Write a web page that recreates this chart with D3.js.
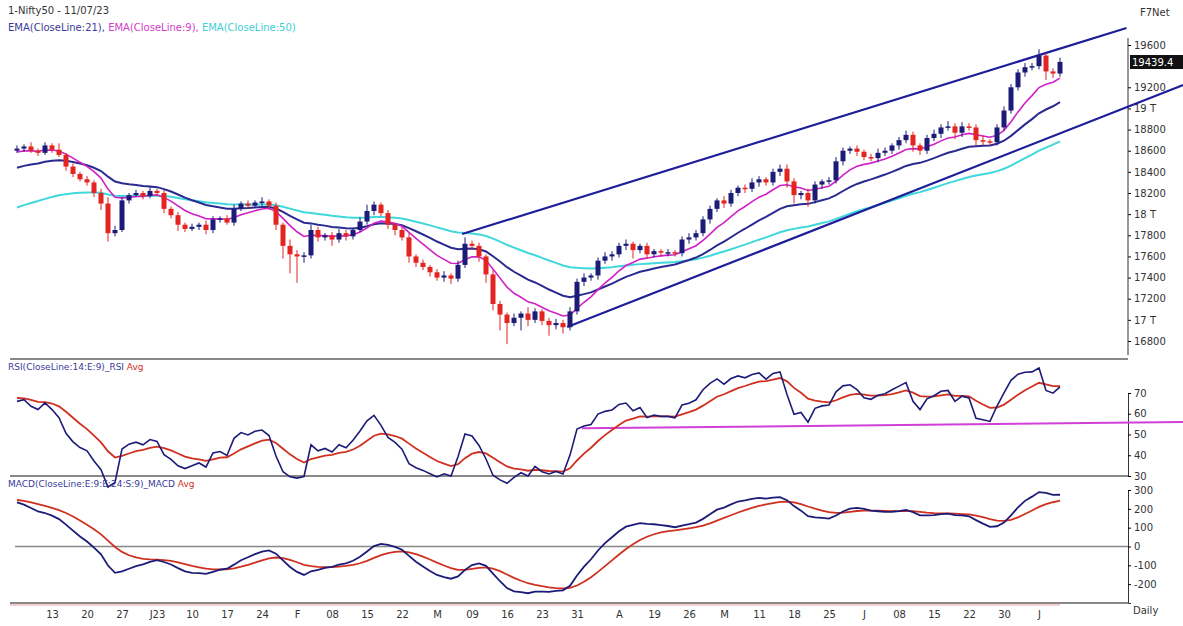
<!DOCTYPE html>
<html>
<head>
<meta charset="utf-8">
<script src="https://cdn.jsdelivr.net/npm/d3@7"></script>
<style>
  body { margin: 0; background: #fff; }
  text { font-family: Verdana, "DejaVu Sans", sans-serif; }
</style>
</head>
<body>
<svg id="chart" width="1183" height="626"></svg>
<script>
// daily closes, Dec 2022 - 11 Jul 2023
const closes = [
  18620,18640,18600,18580,18650,18610,18560,18450,18380,18330,
  18300,18200,18100,17820,17850,18130,18180,18200,18170,18220,
  18200,18050,17990,17900,17860,17880,17900,17850,17950,17960,
  17920,18050,18100,18080,18110,18120,18080,17900,17700,17620,
  17600,17610,17850,17780,17800,17760,17820,17790,17850,17930,
  18030,18090,18010,17900,17850,17780,17600,17540,17500,17450,
  17400,17420,17390,17520,17720,17700,17600,17430,17150,17050,
  16970,17020,17060,17000,17080,16990,16950,16970,16930,17080,
  17360,17400,17420,17560,17600,17620,17700,17720,17660,17700,
  17620,17650,17640,17640,17630,17760,17780,17820,17950,18050,
  18130,18100,18200,18250,18240,18300,18330,18300,18400,18430,
  18310,18180,18200,18130,18280,18310,18320,18500,18600,18620,
  18590,18540,18530,18580,18600,18650,18700,18750,18650,18600,
  18720,18760,18820,18830,18770,18830,18820,18700,18690,18680,
  18820,18980,19200,19340,19390,19400,19500,19350,19330,19440
];
const wickUp = [
  30,20,40,20,30,20,60,20,30,20, 30,20,40,60,40,30,20,30,20,40,
  20,30,20,30,20,30,20,40,30,20, 30,40,20,30,20,40,20,30,20,60,
  40,30,50,30,20,30,40,30,20,40, 60,30,20,30,20,30,40,20,30,20,
  30,40,20,40,60,30,30,20,40,30, 20,40,20,60,30,20,30,40,30,40,
  30,40,20,30,40,30,30,40,20,20, 30,20,20,30,20,30,40,30,30,30,
  20,40,30,20,30,40,30,20,30,40, 40,30,20,40,30,20,30,40,30,20,
  30,20,30,40,30,20,30,40,30,20, 30,40,30,50,30,40,30,30,40,20,
  30,40,30,30,40,30,60,20,30,40
];
const wickDn = [
  20,30,20,30,20,30,20,40,30,20, 30,40,60,80,30,20,30,20,30,20,
  30,40,30,60,30,20,30,40,30,30, 20,30,20,30,20,30,40,50,120,180,
  250,60,30,40,30,60,30,40,30,20, 30,40,30,40,50,30,60,40,30,40,
  30,40,50,30,30,40,50,80,60,150, 200,30,120,60,30,40,100,40,60,30,
  30,40,30,40,30,40,30,40,80,30, 40,30,40,40,30,30,40,30,30,40,
  30,40,30,30,40,30,40,30,30,40, 60,80,40,60,30,40,30,30,40,30,
  40,30,30,40,30,30,40,30,60,40, 30,30,40,30,60,40,30,50,40,30,
  30,30,30,30,40,30,30,80,40,30
];

// bottom axis (index of trading day, label)
const tickIdx = [5,10,15,20,25,30,35,40,45,50,55,60,65,70,75,80,86,91,96,101,106,111,116,121,126,131,136,141,146];
const tickLabels = ["13","20","27","J23","10","17","24","F","08","15","22","M","09","16","23","31","A","19","26","M","11","18","25","J","08","15","22","30","J"];

const priceTicks = [19600,19200,19000,18800,18600,18400,18200,18000,17800,17600,17400,17200,17000,16800];
const priceTickLabels = ["19600","19200","19 T","18800","18600","18400","18200","18 T","17800","17600","17400","17200","17 T","16800"];
const rsiTicks = [70,60,50,40,30];
const macdTicks = [300,200,100,0,-100,-200];

const emaSeeds = {e9: 18580, e21: 18420, e50: 18040};
const macdSeeds = {fast: 18580, slow: 18330, signal: 250};
const rsiSeeds = {gain: 45, loss: 24, avg: 68};

// trend channel (index, price) endpoints
const upperLine = [[63.6, 17812], [158.5, 19761]];
const lowerLine = [[78.6, 16932], [166.6, 19222]];
const rsiSupport = [[80.7, 53], [166.6, 56]];

const N = closes.length;
const opens = closes.map((c, i) => i === 0 ? 18600 : closes[i - 1]);

function ema(arr, n, seed) {
  const k = 2 / (n + 1); let prev = seed;
  return arr.map(v => (prev = v * k + prev * (1 - k)));
}
const ema9 = ema(closes, 9, emaSeeds.e9);
const ema21 = ema(closes, 21, emaSeeds.e21);
const ema50 = ema(closes, 50, emaSeeds.e50);

const fast = ema(closes, 9, macdSeeds.fast);
const slow = ema(closes, 24, macdSeeds.slow);
const macd = fast.map((f, i) => f - slow[i]);
const signal = ema(macd, 9, macdSeeds.signal);

let ag = rsiSeeds.gain, al = rsiSeeds.loss;
const rsi = closes.map((c, i) => {
  const d = c - (i === 0 ? opens[0] : closes[i - 1]);
  ag = (ag * 13 + Math.max(d, 0)) / 14;
  al = (al * 13 + Math.max(-d, 0)) / 14;
  return 100 - 100 / (1 + ag / al);
});
const rsiAvg = ema(rsi, 9, rsiSeeds.avg);

const svg = d3.select('#chart');
const axisX = 1128;
const x = d3.scaleLinear().domain([0, N - 1]).range([17, 1060]);
const yP = d3.scaleLinear().domain([16800, 19600]).range([341, 45]);
const yR = d3.scaleLinear().domain([30, 70]).range([476, 393]);
const yM = d3.scaleLinear().domain([-300, 300]).range([603, 490]);

const blue = '#1c1c78', red = '#e42420';

// header texts
svg.append('text').attr('x', 8).attr('y', 14).attr('font-size', 10).attr('fill', '#333').text('1-Nifty50 - 11/07/23');
const leg = svg.append('text').attr('x', 8).attr('y', 31).attr('font-size', 10);
leg.append('tspan').attr('fill', '#3a3a9a').text('EMA(CloseLine:21), ');
leg.append('tspan').attr('fill', '#d040c8').text('EMA(CloseLine:9), ');
leg.append('tspan').attr('fill', '#40d0d8').text('EMA(CloseLine:50)');
svg.append('text').attr('x', 1140).attr('y', 16).attr('font-size', 10).attr('fill', '#333').text('F7Net');

// separators
[359, 476, 603].forEach(yy => svg.append('line').attr('x1', 10).attr('x2', axisX).attr('y1', yy).attr('y2', yy)
  .attr('stroke', '#888').attr('stroke-width', 2));
svg.append('line').attr('x1', 15).attr('x2', axisX).attr('y1', yM(0)).attr('y2', yM(0)).attr('stroke', '#888').attr('stroke-width', 1.5);
svg.append('line').attr('x1', 10).attr('x2', 1060).attr('y1', 605).attr('y2', 605).attr('stroke', '#e8a0a0').attr('stroke-width', 1);

// right axes
function rightAxis(scale, vals, labels) {
  const g = svg.append('g').attr('transform', `translate(${axisX},0)`)
    .call(d3.axisRight(scale).tickValues(vals).tickSize(3).tickFormat((d, i) => labels ? labels[i] : d));
  g.select('.domain').attr('stroke', '#333');
  g.selectAll('text').attr('font-size', 10).attr('fill', '#333').attr('font-family', 'Verdana, DejaVu Sans, sans-serif');
  return g;
}
rightAxis(yP, priceTicks, priceTickLabels).select('.domain').remove();
svg.append('line').attr('x1', axisX).attr('x2', axisX).attr('y1', 38).attr('y2', 355).attr('stroke', '#333');
rightAxis(yR, rsiTicks);
rightAxis(yM, macdTicks);

// value box
svg.append('rect').attr('x', 1130).attr('y', yP(19439) - 7).attr('width', 53).attr('height', 14).attr('fill', '#111');
svg.append('text').attr('x', 1132).attr('y', yP(19439) + 4).attr('font-size', 10).attr('fill', '#fff').text('19439.4');

// bottom axis
const gx = svg.append('g').attr('transform', 'translate(0,603)')
  .call(d3.axisBottom(x).tickValues(tickIdx).tickSize(0).tickPadding(8).tickFormat((d, i) => tickLabels[i]));
gx.select('.domain').remove();
gx.selectAll('text').attr('font-size', 10).attr('fill', '#333').attr('font-family', 'Verdana, DejaVu Sans, sans-serif');
svg.append('text').attr('x', 1133).attr('y', 614).attr('font-size', 10).attr('fill', '#333').text('Daily');

// EMAs
const line = (ys, arr) => d3.line().x((d, i) => x(i)).y(d => ys(d))(arr);
svg.append('path').attr('d', line(yP, ema50)).attr('fill', 'none').attr('stroke', '#40d8dc').attr('stroke-width', 2);
svg.append('path').attr('d', line(yP, ema21)).attr('fill', 'none').attr('stroke', '#2a2a90').attr('stroke-width', 2);
svg.append('path').attr('d', line(yP, ema9)).attr('fill', 'none').attr('stroke', '#d020c8').attr('stroke-width', 1.6);

// channel
const seg = (pts, ys) => d3.line().x(d => x(d[0])).y(d => ys(d[1]))(pts);
svg.append('path').attr('d', seg(upperLine, yP)).attr('stroke', '#1e1e9a').attr('stroke-width', 2.2).attr('fill', 'none');
svg.append('path').attr('d', seg(lowerLine, yP)).attr('stroke', '#1e1e9a').attr('stroke-width', 2.2).attr('fill', 'none');

// candles
const cg = svg.append('g');
closes.forEach((c, i) => {
  const o = opens[i], up = c >= o, col = up ? blue : red;
  const hi = Math.max(o, c) + wickUp[i], lo = Math.min(o, c) - wickDn[i];
  cg.append('line').attr('x1', x(i)).attr('x2', x(i)).attr('y1', yP(hi)).attr('y2', yP(lo)).attr('stroke', col).attr('stroke-width', 1);
  const top = yP(Math.max(o, c)), bot = yP(Math.min(o, c));
  cg.append('rect').attr('x', x(i) - 2.5).attr('y', top).attr('width', 5).attr('height', Math.max(bot - top, 1.5)).attr('fill', col);
});

// RSI panel
const rl = svg.append('text').attr('x', 8).attr('y', 370).attr('font-size', 9);
rl.append('tspan').attr('fill', '#3a3a9a').text('RSI(CloseLine:14:E:9)_RSI ');
rl.append('tspan').attr('fill', '#d03020').text('Avg');
svg.append('path').attr('d', seg(rsiSupport, yR)).attr('stroke', '#d040d8').attr('stroke-width', 2).attr('fill', 'none');
svg.append('path').attr('d', line(yR, rsiAvg)).attr('fill', 'none').attr('stroke', '#d03020').attr('stroke-width', 1.8);
svg.append('path').attr('d', line(yR, rsi)).attr('fill', 'none').attr('stroke', '#1c1c78').attr('stroke-width', 1.6);

// MACD panel
const ml = svg.append('text').attr('x', 8).attr('y', 487).attr('font-size', 9);
ml.append('tspan').attr('fill', '#3a3a9a').text('MACD(CloseLine:E:9:E:24:S:9)_MACD ');
ml.append('tspan').attr('fill', '#d03020').text('Avg');
svg.append('path').attr('d', line(yM, signal)).attr('fill', 'none').attr('stroke', '#d03020').attr('stroke-width', 1.8);
svg.append('path').attr('d', line(yM, macd)).attr('fill', 'none').attr('stroke', '#1c1c78').attr('stroke-width', 1.8);
</script>
</body>
</html>
